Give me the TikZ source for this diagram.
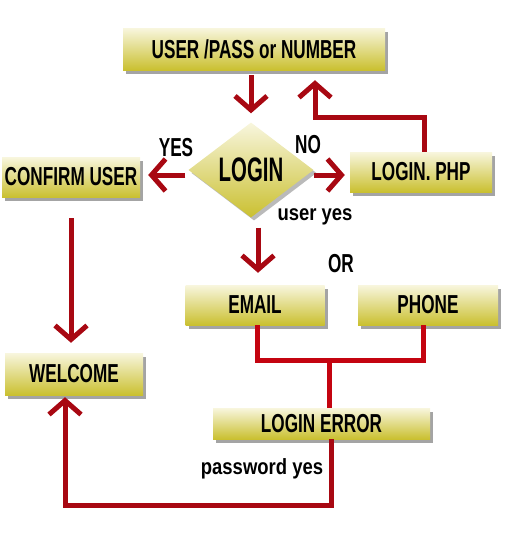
\documentclass[tikz,border=0pt]{standalone}
\usepackage{fontspec}
\newfontfamily\cf[FakeStretch=0.66]{Liberation Sans}
\newfontfamily\cfl[FakeStretch=0.6]{Liberation Sans}
\newfontfamily\cfs[FakeStretch=0.84]{Liberation Sans}
\usetikzlibrary{shapes.geometric,shadows,arrows.meta,calc}
\definecolor{arrred}{RGB}{168,8,18}
\definecolor{linered}{RGB}{196,4,16}
\definecolor{ytop}{RGB}{248,246,222}
\definecolor{ymid}{RGB}{230,222,100}
\definecolor{ybot}{RGB}{202,192,48}
\begin{document}
\begin{tikzpicture}[x=1pt,y=-1pt,
  box/.style={rectangle, top color=ytop, middle color=ymid, bottom color=ybot,
    drop shadow={shadow xshift=3pt,shadow yshift=-3.5pt,fill=black!65,opacity=.55},
    inner sep=0pt, font=\cf\bfseries\fontsize{26}{28}\selectfont},
  dia/.style={diamond, shape aspect=1.3, minimum width=125pt, minimum height=95pt, inner sep=0pt,
    top color=ytop, middle color=ymid, bottom color=ybot,
    drop shadow={shadow xshift=3pt,shadow yshift=-3pt,fill=black!60,opacity=.45},
    font=\cfl\bfseries\fontsize{34}{36}\selectfont},
  arr/.style={draw=arrred, line width=5pt, -{Straight Barb[length=14pt,width=32pt,line width=5pt]}},
  conn/.style={draw=linered, line width=5pt},
  lbl/.style={inner sep=0pt, font=\cf\bfseries\fontsize{26}{28}\selectfont},
  lbls/.style={inner sep=0pt, font=\cfs\bfseries\fontsize{22}{24}\selectfont}
]
\useasboundingbox (0,0) rectangle (520,554);
% boxes
\node[box, minimum width=262pt, minimum height=42pt] (user) at (254,49) {USER /PASS or NUMBER};
\node[dia] (login) at (251,170) {LOGIN};
\node[box, minimum width=142pt, minimum height=40pt] (php) at (421,172) {LOGIN. PHP};
\node[box, minimum width=138pt, minimum height=40pt] (confirm) at (71,177) {CONFIRM USER};
\node[box, minimum width=138pt, minimum height=42pt] (welcome) at (74,374) {WELCOME};
\node[box, minimum width=139pt, minimum height=40pt] (email) at (255,305) {EMAIL};
\node[box, minimum width=140pt, minimum height=40pt] (phone) at (428,305) {PHONE};
\node[box, minimum width=217pt, minimum height=31pt] (err) at (321.5,423.5) {LOGIN ERROR};
% labels
\node[lbl] (yes) at (176,148) {YES};
\node[lbl] (no) at (308,145) {NO};
\node[lbls] (uy) at (315,217) {user yes};
\node[lbl] (or) at (341,264) {OR};
\node[lbls] (pw) at (262,469) {password yes};
% connectors
\draw[arr, shorten <=5pt, shorten >=9pt] (login.north |- user.south) -- (login.north);
\coordinate (ret) at (315,117);
\draw[arr, shorten >=10pt] ([xshift=3pt]php.north) |- (ret) -- (ret |- user.south);
\draw[arr, shorten >=5pt] (login.east) ++(0,5) coordinate (a) -- (a -| php.west);
\draw[arr, shorten >=8pt] (login.west) ++(-3,5) coordinate (b) -- (b -| confirm.east);
\draw[arr, shorten <=21pt, shorten >=10pt] (confirm.south) -- (confirm.south |- welcome.north);
\draw[arr, shorten >=12pt] (login.south) ++(7,10) coordinate (c) -- (c |- email.north);
\coordinate (j) at (329,360);
\draw[conn] ([xshift=2pt]email.south) |- ([xshift=-5pt]phone.south |- j) -- ([xshift=-5pt]phone.south);
\draw[conn] (j) -- (j |- err.north);
\coordinate (bl) at (65,505);
\draw[arr, shorten >=2pt] ([xshift=9.5pt]err.south) |- (bl) -- (bl |- welcome.south);
\end{tikzpicture}
\end{document}
